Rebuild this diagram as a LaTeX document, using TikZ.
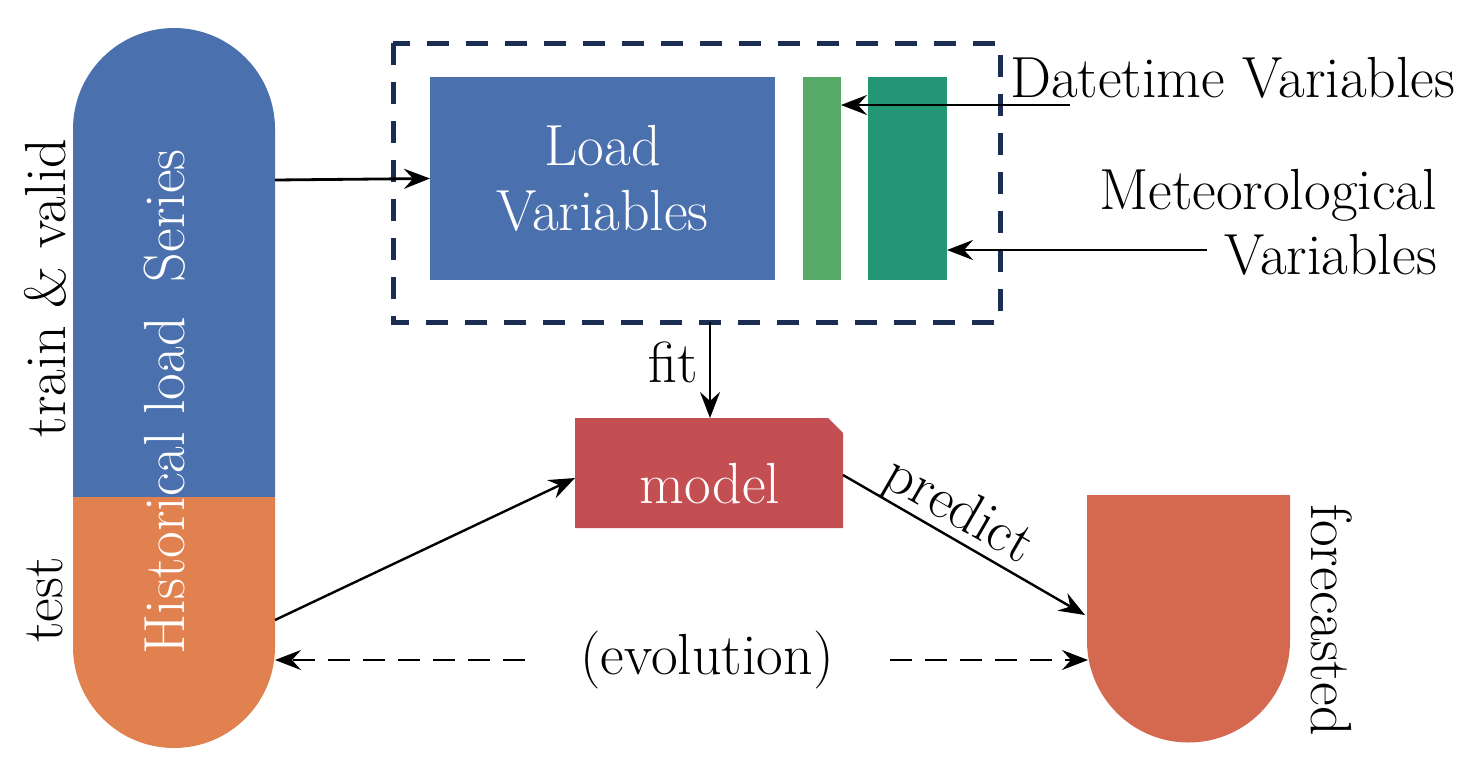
\documentclass[tikz,border=0pt]{standalone}
\usepackage{fontspec}
\usetikzlibrary{arrows.meta,calc}
\definecolor{pblue}{HTML}{4A70AE}
\definecolor{porange}{HTML}{E0814F}
\definecolor{g1}{HTML}{57A968}
\definecolor{g2}{HTML}{239675}
\definecolor{mred}{HTML}{C44F52}
\definecolor{fred}{HTML}{D4694F}
\definecolor{navy}{HTML}{1B2D52}
\begin{document}
\begin{tikzpicture}[x=1pt,y=-1pt,
  txt/.style={font=\rmfamily\fontsize{58}{65}\selectfont, inner sep=0pt},
  wtxt/.style={txt, text=white},
  conn/.style={line width=2.8pt, -{Stealth[length=26pt,width=20pt,inset=9pt]}},
  dconn/.style={conn, dash pattern=on 22pt off 13pt},
  blk/.style={inner sep=0pt, outer sep=0pt}]
\useasboundingbox (0,0) rectangle (1476,766);
% left pill
\fill[pblue] (73,497) -- (73,129) arc[start angle=180,end angle=360,radius=101] -- (275,497) -- cycle;
\fill[porange] (73,497) -- (73,647) arc[start angle=180,end angle=0,radius=101] -- (275,497) -- cycle;
\coordinate (pillA) at (275,180);
\coordinate (pillB) at (275,620);
\coordinate (pillC) at (275,660);
\node[wtxt, rotate=90] (hist) at (165,402) {Historical load\ \ Series};
\node[txt, rotate=90] (tv) at (45,288) {train \& valid};
\node[txt, rotate=90] (test) at (45,600) {test};
% dashed box
\draw[navy, line width=5pt, dash pattern=on 22pt off 17pt] (393,43) rectangle (1000,322);
\coordinate (boxS) at (710,322);
\node[blk, fill=pblue, minimum width=345pt, minimum height=203pt] (load) at (602.5,178.5) {};
\node[wtxt, align=center] at (load) {Load\\Variables};
\node[blk, fill=g1, minimum width=38pt, minimum height=203pt] (gb1) at (822,178.5) {};
\node[blk, fill=g2, minimum width=79pt, minimum height=203pt] (gb2) at (907.5,178.5) {};
\node[txt, anchor=west] (dt) at (1010,78) {Datetime Variables};
\node[txt, align=right, anchor=east] (met) at (1437,222) {Meteorological\\Variables};
\coordinate (dtS) at (1070,105);
\coordinate (metS) at (1207,250);
\draw[conn] (pillA) -- (load.west);
\draw[conn] (dtS) -- (gb1.east |- dtS);
\draw[conn] (metS) -- (gb2.east |- metS);
% model
\fill[mred] (575,418) -- (828,418) -- (843,433) -- (843,528) -- (575,528) -- cycle;
\coordinate (modelN) at (710,418);
\coordinate (modelW) at (575,478);
\coordinate (modelE) at (843,475);
\node[wtxt] (mtxt) at (710,484) {model};
\draw[line width=2pt, -{Stealth[length=26pt,width=20pt,inset=9pt]}] (boxS) -- (modelN);
\node[txt] (fit) at (673,362) {fit};
% forecasted
\fill[fred] (1087,495) -- (1290,495) -- (1290,641) arc[start angle=0,end angle=180,radius=101.5] -- cycle;
\coordinate (fcW) at (1085,615);
\coordinate (fcL) at (1088,660);
\node[txt, rotate=-90] (fc) at (1332,620) {forecasted};
\draw[conn, line width=2.4pt] (pillB) -- (modelW);
\draw[conn, line width=2.4pt] (modelE) -- (fcW);
\node[txt, rotate=-30] (pred) at (958,512) {predict};
% evolution
\node[txt] (evo) at (707,660) {(evolution)};
\coordinate (evL) at (525,660);
\coordinate (evR) at (890,660);
\draw[dconn, line width=2.4pt] (evL) -- (pillC);
\draw[dconn, line width=2.4pt] (evR) -- (fcL);
\end{tikzpicture}
\end{document}
